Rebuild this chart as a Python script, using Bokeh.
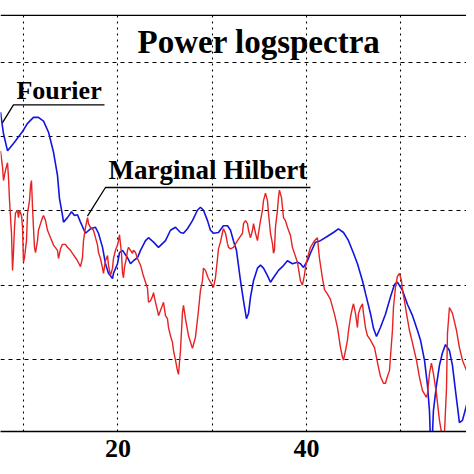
from bokeh.plotting import figure
from bokeh.models import Range1d, FixedTicker, Grid, Span, ColumnDataSource
from bokeh.core.properties import value
from bokeh.embed import file_html
from bokeh.resources import INLINE

# Fourier power logspectrum (blue)
fourier_x = [7.53, 7.85, 8.28, 8.91, 9.87, 10.40, 11.03, 11.56, 12.10, 12.63, 13.16, 13.58, 13.79, 14.11,
             14.22, 14.64, 15.07, 15.38, 15.70, 16.02, 16.55, 17.08, 17.61, 17.93, 18.36, 18.67, 18.99,
             19.42, 19.52, 19.95, 20.16, 20.48, 21.01, 21.33, 21.64, 22.07, 22.39, 22.92, 23.24, 23.77,
             24.30, 25.04, 25.57, 26.10, 26.63, 26.95, 27.37, 27.90, 28.43, 28.75, 29.07, 29.50, 29.81,
             30.13, 30.66, 31.19, 31.62, 31.94, 32.25, 32.57, 32.78, 33.00, 33.32, 33.63, 33.85, 34.06,
             34.38, 34.80, 35.12, 35.44, 35.86, 36.18, 36.60, 37.03, 37.45, 37.98, 38.51, 39.04, 39.36,
             39.68, 40.11, 40.42, 40.95, 41.48, 42.23, 42.86, 43.39, 43.93, 44.46, 44.99, 45.41, 45.94,
             46.26, 46.79, 47.11, 47.43, 47.85, 48.38, 48.91, 49.34, 49.65, 50.19, 50.72, 51.25, 51.78,
             52.10, 52.52, 52.84, 53.05, 53.16, 53.37, 53.47, 53.79, 54.11, 54.43, 54.75, 55.17, 55.49,
             55.81, 56.23, 56.55, 56.98, 57.29, 57.61, 57.82]
fourier_y = [4.33, 4.04, 3.81, 3.91, 4.07, 4.18, 4.26, 4.26, 4.21, 4.06, 3.79, 3.48, 3.17, 2.94,
             2.85, 2.91, 2.99, 2.94, 2.95, 2.85, 2.70, 2.76, 2.78, 2.70, 2.51, 2.29, 2.16,
             2.09, 2.16, 2.29, 2.44, 2.47, 2.37, 2.29, 2.33, 2.37, 2.47, 2.60, 2.64, 2.58,
             2.51, 2.60, 2.74, 2.78, 2.71, 2.70, 2.76, 2.87, 3.01, 3.05, 3.01, 2.87, 2.74,
             2.70, 2.71, 2.80, 2.80, 2.74, 2.60, 2.47, 2.27, 2.06, 1.79, 1.55, 1.62, 1.84,
             2.06, 2.23, 2.27, 2.23, 2.13, 2.04, 2.12, 2.20, 2.25, 2.33, 2.29, 2.31, 2.29,
             2.24, 2.33, 2.43, 2.58, 2.60, 2.66, 2.71, 2.76, 2.71, 2.60, 2.43, 2.29, 2.06,
             1.89, 1.62, 1.42, 1.31, 1.43, 1.61, 1.84, 2.01, 2.04, 1.93, 1.74, 1.59, 1.39,
             1.26, 0.99, 0.65, 0.31, -0.09, 0.00, 0.31, 0.65, 0.92, 1.09, 1.20, 1.12, 0.92,
             0.58, 0.15, 0.18, 0.38, 0.62, 0.74, 0.78]

# Marginal Hilbert power logspectrum (red)
hilbert_x = [7.53, 7.75, 7.85, 8.06, 8.28, 8.38, 8.49, 8.70, 8.81, 8.91, 9.02, 9.12, 9.34, 9.44, 9.55,
             9.76, 9.87, 9.97, 10.08, 10.29, 10.40, 10.61, 10.72, 10.82, 10.93, 11.03, 11.14, 11.25,
             11.46, 11.56, 11.78, 11.99, 12.10, 12.31, 12.52, 12.84, 13.16, 13.58, 13.69, 13.90, 14.11,
             14.43, 14.64, 14.96, 15.17, 15.49, 15.70, 16.02, 16.23, 16.34, 16.55, 16.77, 16.87, 17.08,
             17.40, 17.83, 17.93, 18.14, 18.36, 18.46, 18.67, 18.89, 18.99, 19.20, 19.42, 19.52, 19.73,
             19.95, 20.05, 20.16, 20.37, 20.48, 20.58, 20.69, 20.90, 21.01, 21.12, 21.33, 21.54, 21.64,
             21.86, 22.07, 22.39, 22.71, 23.13, 23.24, 23.45, 23.66, 23.77, 23.98, 24.19, 24.30, 24.51,
             24.72, 24.83, 25.04, 25.25, 25.36, 25.57, 25.78, 25.89, 26.10, 26.31, 26.42, 26.63, 26.84,
             26.95, 27.16, 27.48, 27.90, 28.22, 28.54, 28.75, 28.96, 29.07, 29.28, 29.50, 29.60, 29.81,
             30.03, 30.13, 30.34, 30.56, 30.66, 30.87, 31.09, 31.19, 31.41, 31.62, 31.73, 31.94, 32.25,
             32.68, 33.00, 33.21, 33.32, 33.53, 33.74, 33.85, 34.06, 34.27, 34.38, 34.59, 34.80, 34.91,
             35.12, 35.33, 35.44, 35.65, 35.86, 35.97, 36.18, 36.39, 36.50, 36.60, 36.71, 36.92, 37.03,
             37.13, 37.35, 37.45, 37.56, 37.77, 37.98, 38.30, 38.51, 39.04, 39.36, 39.57, 39.79, 39.89,
             40.11, 40.42, 40.85, 41.16, 41.37, 41.69, 41.91, 42.23, 42.54, 42.97, 43.29, 43.61, 43.82,
             43.93, 44.14, 44.35, 44.46, 44.67, 44.88, 44.99, 45.20, 45.41, 45.52, 45.73, 45.94, 46.05,
             46.26, 46.47, 46.79, 47.22, 47.53, 47.85, 48.17, 48.38, 48.59, 48.81, 48.91, 49.12, 49.23,
             49.44, 49.65, 49.87, 50.08, 50.19, 50.40, 50.61, 50.93, 51.25, 51.67, 51.99, 52.31, 52.73,
             52.84, 53.05, 53.26, 53.47, 53.79, 54.11, 54.43, 54.64, 54.86, 54.96, 55.17, 55.49, 55.92,
             56.23, 56.55, 56.98, 57.29, 57.61, 57.82]
hilbert_y = [3.81, 3.59, 3.41, 3.55, 3.65, 3.45, 3.14, 2.70, 2.20, 2.44, 2.78, 2.97, 3.01, 2.91, 3.01,
             2.94, 2.78, 2.31, 2.37, 2.60, 2.97, 3.14, 3.34, 3.41, 3.05, 2.78, 2.51, 2.44,
             2.60, 2.74, 2.83, 2.91, 2.94, 2.87, 2.74, 2.64, 2.54, 2.47, 2.36, 2.49, 2.55,
             2.55, 2.51, 2.47, 2.43, 2.37, 2.33, 2.25, 2.37, 2.60, 2.78, 2.91, 2.83, 2.78,
             2.74, 2.54, 2.44, 2.36, 2.23, 2.16, 2.33, 2.40, 2.27, 2.13, 2.23, 2.36, 2.47,
             2.54, 2.60, 2.68, 2.43, 2.17, 2.10, 2.24, 2.37, 2.47, 2.51, 2.47, 2.43, 2.47,
             2.44, 2.36, 2.27, 2.12, 1.96, 1.77, 1.79, 1.85, 1.90, 1.77, 1.66, 1.59, 1.66,
             1.73, 1.77, 1.59, 1.55, 1.43, 1.32, 1.23, 1.12, 0.99, 0.85, 0.80, 1.12, 1.63,
             1.73, 1.55, 1.32, 1.15, 1.30, 1.66, 1.93, 2.06, 2.23, 2.20, 2.12, 2.09, 2.04,
             2.00, 1.97, 2.10, 2.36, 2.49, 2.58, 2.71, 2.76, 2.70, 2.56, 2.51, 2.49, 2.51,
             2.60, 2.66, 2.70, 2.83, 2.87, 2.83, 2.74, 2.64, 2.74, 2.83, 2.70, 2.60, 2.70,
             2.87, 3.01, 3.14, 3.24, 3.14, 2.97, 2.70, 2.56, 2.43, 2.47, 2.78, 3.01, 3.18,
             3.28, 3.18, 3.05, 2.91, 2.87, 2.78, 2.67, 2.51, 2.31, 2.06, 2.00, 2.14, 2.24,
             2.37, 2.51, 2.60, 2.64, 2.37, 2.10, 1.94, 1.88, 1.81, 1.61, 1.43, 1.16, 1.03,
             0.99, 1.12, 1.26, 1.39, 1.57, 1.70, 1.75, 1.62, 1.43, 1.62, 1.70, 1.75, 1.62,
             1.43, 1.32, 1.26, 1.16, 0.96, 0.77, 0.68, 0.68, 0.77, 0.85, 1.03, 1.39, 1.70,
             1.97, 2.12, 2.16, 2.06, 1.93, 1.79, 1.62, 1.39, 1.22, 0.99, 0.76, 0.58, 0.49,
             0.54, 0.81, 0.95, 0.81, 0.54, 0.18, -0.06, 0.00, 0.62, 1.35, 1.70, 1.62, 1.39,
             1.16, 0.99, 0.85, 0.72, 0.54, 0.41]

x_ticks = [10, 20, 30, 40, 50]
x_tick_labels = {10: "", 20: "20", 30: "", 40: "40", 50: ""}
y_grid = [1, 2, 3, 4, 5]

title_text = "Power logspectra"
label_fourier = "Fourier"
label_hilbert = "Marginal Hilbert"

X0, X1 = 7.533, 56.98
Y0, Y1 = 0.03, 5.646

p = figure(width=466, height=466, output_backend="svg", toolbar_location=None,
           x_range=Range1d(X0, X1), y_range=Range1d(Y0, Y1),
           y_axis_location=None, min_border_left=0, min_border_right=0,
           min_border_top=14, min_border_bottom=35)
p.background_fill_color = "white"
p.border_fill_color = "white"
p.outline_line_color = None
p.grid.visible = False

vg = Grid(dimension=0, ticker=FixedTicker(ticks=x_ticks), grid_line_color="black",
          grid_line_dash="2 4", grid_line_width=1.1)
hg = Grid(dimension=1, ticker=FixedTicker(ticks=y_grid), grid_line_color="black",
          grid_line_dash="4 4", grid_line_width=1.2)
p.add_layout(vg, "center")
p.add_layout(hg, "center")

ax = p.xaxis[0]
ax.ticker = FixedTicker(ticks=x_ticks)
ax.major_label_overrides = x_tick_labels
ax.major_tick_line_color = None
ax.minor_tick_line_color = None
ax.axis_line_color = "black"
ax.axis_line_width = 1.6
ax.major_label_standoff = 2
ax.major_label_text_font = "Liberation Serif"
ax.major_label_text_font_style = "bold"
ax.major_label_text_font_size = "26px"
ax.major_label_text_color = "black"

p.add_layout(Span(location=Y1 - 0.01, dimension="width", line_color="black", line_width=1.4))

p.line(fourier_x, fourier_y, line_color="#1414e0", line_width=1.6)
p.line(hilbert_x, hilbert_y, line_color="#e62222", line_width=1.4)

# annotation leaders and underlines
p.line([7.75, 8.91, 18.57], [4.19, 4.43, 4.43], line_color="black", line_width=1.3)
p.line([16.76, 18.67, 40.42], [2.93, 3.316, 3.316], line_color="black", line_width=1.3)

src = ColumnDataSource(dict(x=[34.96], y=[5.27], t=[title_text]))
p.text(x="x", y="y", text="t", source=src, text_align="center", text_baseline="alphabetic",
       text_font=value("Liberation Serif"), text_font_style="bold", text_font_size="33px",
       text_color="black")
p.text(x=[9.23], y=[4.625], text=[label_fourier], text_align="left", text_baseline="alphabetic",
       text_font=value("Liberation Serif"), text_font_style="bold", text_font_size="26px",
       text_color="black")
p.text(x=[18.99], y=[3.558], text=[label_hilbert], text_align="left", text_baseline="alphabetic",
       text_font=value("Liberation Serif"), text_font_style="bold", text_font_size="27px",
       text_color="black")

open("out.html", "w").write(file_html(p, INLINE))
